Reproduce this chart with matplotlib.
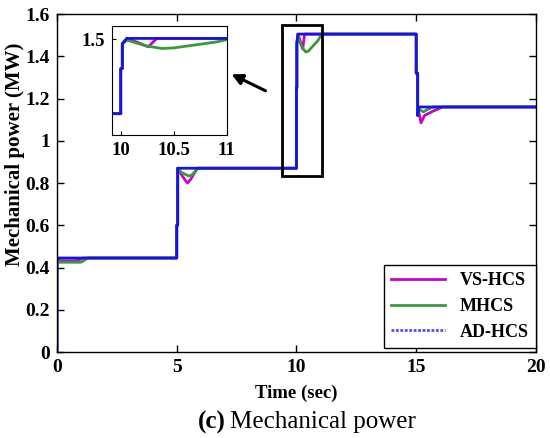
import matplotlib
matplotlib.use("Agg")
import matplotlib.pyplot as plt
from matplotlib.lines import Line2D
from matplotlib.patches import Rectangle, FancyArrowPatch

# VS-HCS (magenta)
vs_t = [0, 0, 0.1, 0.8, 1.1, 5.0, 5.0, 5.04, 5.04, 5.25, 5.45, 5.6, 5.85,
        10.0, 10.0, 10.015, 10.015, 10.06, 10.15, 10.26, 10.3, 10.34,
        15.0, 15.0, 15.06, 15.06, 15.1, 15.2, 15.35, 15.7, 16.1, 20]
vs_p = [0, 0.44, 0.432, 0.432, 0.445, 0.445, 0.6, 0.6, 0.87, 0.83, 0.80, 0.82, 0.87,
        0.87, 1.25, 1.25, 1.46, 1.505, 1.475, 1.434, 1.47, 1.505,
        1.505, 1.32, 1.32, 1.12, 1.14, 1.085, 1.12, 1.14, 1.16, 1.16]

# MHCS (green)
m_t = [0, 0, 0.1, 1.0, 1.3, 5.0, 5.0, 5.04, 5.04, 5.2, 5.5, 5.65, 5.9,
       10.0, 10.0, 10.015, 10.015, 10.06, 10.15, 10.25, 10.39, 10.5, 10.7, 10.9, 11.05,
       15.0, 15.0, 15.06, 15.06, 15.1, 15.3, 15.5, 15.7, 20]
m_p = [0, 0.43, 0.425, 0.425, 0.445, 0.445, 0.6, 0.6, 0.87, 0.85, 0.833, 0.84, 0.87,
       0.87, 1.25, 1.25, 1.46, 1.49, 1.465, 1.44, 1.42, 1.425, 1.45, 1.475, 1.505,
       1.505, 1.32, 1.32, 1.12, 1.15, 1.137, 1.15, 1.16, 1.16]

# AD-HCS (blue)
ad_t = [0, 0, 5.0, 5.0, 5.04, 5.04, 10.0, 10.0, 10.015, 10.015, 10.057,
        15.0, 15.0, 15.06, 15.06, 15.12, 20]
ad_p = [0, 0.445, 0.445, 0.6, 0.6, 0.87, 0.87, 1.25, 1.25, 1.46, 1.505,
        1.505, 1.32, 1.32, 1.12, 1.16, 1.16]

labels = ["VS-HCS", "MHCS", "AD-HCS"]
colors = ["#cc00cc", "#3a9a3a", "#1414e6"]
yticks = [0, 0.2, 0.4, 0.6, 0.8, 1, 1.2, 1.4, 1.6]
ytick_labels = ["0", "0.2", "0.4", "0.6", "0.8", "1", "1.2", "1.4", "1.6"]
zoom_box = (9.41, 11.05, 0.835, 1.55)

series = [(vs_t, vs_p), (m_t, m_p), (ad_t, ad_p)]
bold = dict(family="Liberation Serif", fontweight="bold")

fig = plt.figure(figsize=(5.5, 4.38), dpi=100)
ax = fig.add_axes([0.1036, 0.1963, 0.8709, 0.7717])

for (t, p), c in zip(series, colors):
    ax.plot(t, p, color=c, lw=2)

ax.set_xlim(0, 20)
ax.set_ylim(0, 1.6)
ax.set_xticks([0, 5, 10, 15, 20])
ax.set_yticks(yticks)
ax.set_yticklabels(ytick_labels)
ax.tick_params(direction="in", top=True, right=True, length=5, width=1, labelsize=14, pad=5)
for lab in ax.get_xticklabels() + ax.get_yticklabels():
    lab.set_fontfamily("Liberation Serif")
    lab.set_fontweight("bold")
for s in ax.spines.values():
    s.set_linewidth(1)

ax.set_xlabel("Time (sec)", fontsize=13.5, labelpad=6, **bold)
ax.set_ylabel("Mechanical power (MW)", fontsize=15, va="center", **bold)
ax.yaxis.set_label_coords(-0.088, 0.586)

x0, x1, y0, y1 = zoom_box
ax.add_patch(Rectangle((x0, y0), x1 - x0, y1 - y0, fill=False, ec="k", lw=2, zorder=5))

handles = [Line2D([], [], color=colors[0], lw=2),
           Line2D([], [], color=colors[1], lw=2),
           Line2D([], [], color="#5050f0", lw=2, ls=(0, (1, 0.6)))]
leg = ax.legend(handles, labels, loc="lower right", bbox_to_anchor=(1.0, 0.012),
                borderaxespad=0, handlelength=3.0, labelspacing=0.48,
                fancybox=False, framealpha=1, edgecolor="k",
                prop=dict(family="Liberation Serif", weight="bold", size=13))
leg.get_frame().set_linewidth(1)

# inset
ins = fig.add_axes([0.2031, 0.6918, 0.2103, 0.2489])
for (t, p), c in zip(series, colors):
    ins.plot(t, p, color=c, lw=2)
ins.set_xlim(9.915, 11.005)
ins.set_ylim(0.69, 1.61)
ins.set_xticks([10, 10.5, 11])
ins.set_xticklabels(["10", "10.5", "11"])
ins.set_yticks([1.5])
ins.set_yticklabels(["1.5"])
ins.tick_params(direction="in", length=3, labelsize=13.5, pad=5)
for lab in ins.get_xticklabels() + ins.get_yticklabels():
    lab.set_fontfamily("Liberation Serif")
    lab.set_fontweight("bold")

fig.patches.append(FancyArrowPatch(
    (268 / 550, 1 - 92 / 438), (229 / 550, 1 - 73 / 438),
    transform=fig.transFigure, arrowstyle="-|>", mutation_scale=16, lw=2.2, color="k"))

fig.text(198 / 550, 1 - 422 / 438, "(c)", fontsize=18, fontweight="bold",
         family="Liberation Serif", ha="left", va="center")
fig.text(230 / 550, 1 - 422 / 438, "Mechanical power", fontsize=18,
         family="Liberation Serif", ha="left", va="center")

fig.savefig("out.png", dpi=100)
